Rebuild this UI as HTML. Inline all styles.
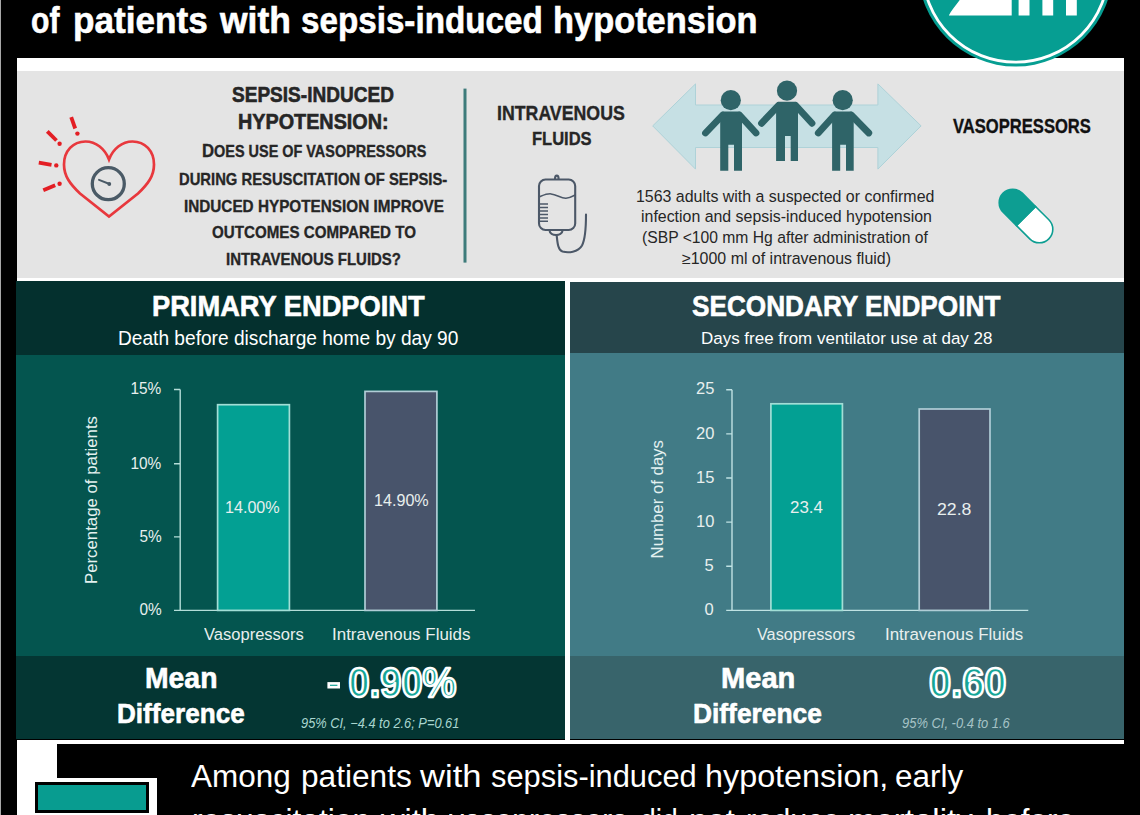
<!DOCTYPE html>
<html><head><meta charset="utf-8"><style>
html,body{margin:0;padding:0;background:#000;width:1140px;height:815px;overflow:hidden}
#root{position:relative;width:1140px;height:815px;background:#000;overflow:hidden;font-family:"Liberation Sans",sans-serif}
.r{position:absolute}
.tx{position:absolute;white-space:nowrap;line-height:1;font-family:"Liberation Sans",sans-serif}
svg{position:absolute;left:0;top:0}

</style></head><body>
<div id="root">
<div class="r" style="left:0;top:0;width:1px;height:815px;background:#a8a8a8"></div>
<!-- white strip + gray panel -->
<div class="r" style="left:17px;top:58px;width:1107px;height:223px;background:#fff"></div>
<div class="r" style="left:17px;top:71px;width:1107px;height:206.7px;background:#e4e4e4"></div>
<!-- panels -->
<div class="r" style="left:16px;top:281px;width:549px;height:74.3px;background:#04302e"></div>
<div class="r" style="left:16px;top:355.3px;width:549px;height:301.1px;background:#04554f"></div>
<div class="r" style="left:16px;top:656.4px;width:549px;height:83.1px;background:#043633"></div>
<div class="r" style="left:565px;top:281px;width:5px;height:462.5px;background:#fff"></div>
<div class="r" style="left:570px;top:281px;width:554px;height:1px;background:#fff"></div>
<div class="r" style="left:570px;top:282px;width:554px;height:70.5px;background:#26454b"></div>
<div class="r" style="left:570px;top:352.5px;width:554px;height:303.9px;background:#417b86"></div>
<div class="r" style="left:570px;top:656.4px;width:554px;height:83.1px;background:#38646b"></div>
<div class="r" style="left:17px;top:739.5px;width:1107px;height:4.2px;background:#fff"></div>
<!-- bottom-left icon -->
<div class="r" style="left:17px;top:743px;width:40px;height:80px;background:#fff"></div>
<div class="r" style="left:17px;top:777.5px;width:140px;height:50px;background:#fff"></div>
<div class="r" style="left:34.6px;top:782.4px;width:108.4px;height:24.2px;background:#089c90;border:3px solid #000"></div>
<svg width="1140" height="815" viewBox="0 0 1140 815">
  <!-- logo circle -->
  <circle cx="1015.5" cy="-30.8" r="97.3" fill="#069e92"/>
  <circle cx="1015.5" cy="-30.8" r="92.9" fill="none" stroke="#fff" stroke-width="2.8"/>
  <path d="M960.5 -1 C956 5 951 11 948.8 15.5 L1011.7 15.5 L1011.7 -1 Z" fill="#fff"/>
  <rect x="1018.6" y="-5" width="10.9" height="20.5" fill="#fff"/>
  <rect x="1042.4" y="-5" width="10.8" height="20.5" fill="#fff"/>
  <rect x="1066" y="-5" width="10.8" height="20.5" fill="#fff"/>
  <!-- heart -->
  <path d="M109 159.5 C105 149 96 141.5 85.5 141.5 C73 141.5 64 151 64 164.5 C64 176 70 184 80 193.5 L109 216.5 L138 193.5 C148 184 154 176 154 164.5 C154 151 145 141.5 132.5 141.5 C122 141.5 113 149 109 159.5 Z" fill="none" stroke="#e8383d" stroke-width="2.7" stroke-linejoin="miter"/>
  <circle cx="108.3" cy="183.7" r="16" fill="none" stroke="#4a5a66" stroke-width="3.3"/>
  <path d="M99 179.8 L109.5 184" stroke="#4a5a66" stroke-width="1.9" stroke-linecap="round"/><circle cx="109.3" cy="184" r="1.9" fill="#4a5a66"/>
  <g stroke="#e31e24" stroke-width="3.8" stroke-linecap="butt">
    <path d="M71.2 117.2 L75.2 128.5"/><path d="M47.3 131.3 L56.5 140.5"/><path d="M38.8 162.6 L51.5 164.8"/><path d="M43.3 190.3 L55.2 185.3"/>
  </g>
  <g fill="#e31e24">
    <circle cx="77.4" cy="133.6" r="2.2"/><circle cx="59.6" cy="143.7" r="2.2"/><circle cx="56.3" cy="165.4" r="2.2"/><circle cx="59.6" cy="183.8" r="2.2"/>
  </g>
  <!-- divider -->
  <rect x="463.5" y="88.6" width="3" height="174" fill="#3d7b7a"/>
  <!-- IV bag -->
  <g fill="none" stroke="#4c5868" stroke-width="2.1" stroke-linecap="round" stroke-linejoin="round">
    <rect x="539" y="179.5" width="36.2" height="50.5" rx="6.5"/>
    <path d="M555 179 C555 174.5 558.6 174.5 558.6 179"/>
    <path d="M549.5 230.3 C550 236.5 562 236.5 562.6 230.3"/>
    <path d="M556.7 235.6 C557.5 243 558 250 562.5 251.5 C568 253 578 252.5 582 245.5 C585.5 239 586 229 586 214.6"/>
  </g>
  <g fill="none" stroke="#4c5868" stroke-width="1.5">
    <path d="M539 197 C544 195 547 193.5 551 193.9 C557 194.5 561 198.5 566 198.2 C570 198 573 196 575.7 194.7"/>
    <path d="M539 204.1 H548 M539 207.6 H548 M539 211.1 H548 M539 214.6 H548 M539 218.1 H548 M539 221.3 H548"/>
  </g>
  <!-- arrow -->
  <path d="M652.7 125.9 L695.5 83.9 L695.5 105 L877.9 105 L877.9 83.9 L921.1 125.9 L877.9 169.1 L877.9 147.5 L695.5 147.5 L695.5 169.1 Z" fill="#c6e0e4" stroke="#aed2d8" stroke-width="1"/>
  <!-- people -->
  <g fill="#2f6468">
    <circle cx="730.8" cy="100.2" r="10.1"/>
    <path d="M720.2 115.0 Q720.2 111.5 723.7 111.5 H738.5 Q742 111.5 742 115.0 V170.7 H734 V144.8 H728.3 V170.7 H720.2 Z"/>
    <path d="M722.7 115.0 L705.5 133 M739.5 115.0 L756 133" stroke="#2f6468" stroke-width="6.8" stroke-linecap="round" fill="none"/>
    <circle cx="787" cy="90.7" r="10.1"/>
    <path d="M776.1 105.3 Q776.1 101.8 779.6 101.8 H794.5 Q798 101.8 798 105.3 V161 H790.7 V135.9 H785 V161 H776.1 Z"/>
    <path d="M778.6 105.3 L761.5 123.3 M795.5 105.3 L812 123.3" stroke="#2f6468" stroke-width="6.8" stroke-linecap="round" fill="none"/>
    <circle cx="842.7" cy="100.2" r="10.1"/>
    <path d="M832.1 115.0 Q832.1 111.5 835.6 111.5 H850.2 Q853.7 111.5 853.7 115.0 V170.7 H846 V144.8 H840.2 V170.7 H832.1 Z"/>
    <path d="M834.6 115.0 L818.3 133 M851.2 115.0 L868.8 133" stroke="#2f6468" stroke-width="6.8" stroke-linecap="round" fill="none"/>
  </g>
  <!-- pill -->
  <g transform="translate(1026 216) rotate(45)">
    <path d="M0 -13.5 L18.8 -13.5 A13.5 13.5 0 0 1 18.8 13.5 L0 13.5 Z" fill="#fff" stroke="#0d9e92" stroke-width="1.6"/>
    <path d="M0 -13.5 L-18.8 -13.5 A13.5 13.5 0 0 0 -18.8 13.5 L0 13.5 Z" fill="#0d9e92" stroke="#0d9e92" stroke-width="1.6"/>
  </g>
  <!-- primary chart -->
  <g stroke="#b4ddd8" stroke-width="1.4" fill="none">
    <path d="M180.2 389.5 V610.4 H475 M174 389.5 H180.2 M174 463.8 H180.2 M174 536.9 H180.2 M174 610.4 H180.2"/>
  </g>
  <rect x="217.6" y="404.7" width="71.8" height="205.7" fill="#03a093" stroke="#a2ded6" stroke-width="1.7"/>
  <rect x="365" y="391.4" width="71.9" height="219" fill="#48546b" stroke="#b0cdd6" stroke-width="1.7"/>
  <!-- secondary chart -->
  <g stroke="#bfe2e3" stroke-width="1.4" fill="none">
    <path d="M732 389.8 V610.4 H1028.3 M726.2 389.8 H732 M726.2 433.9 H732 M726.2 478 H732 M726.2 522.1 H732 M726.2 566.3 H732 M726.2 610.4 H732"/>
  </g>
  <rect x="770.9" y="403.8" width="71.5" height="206.6" fill="#03a093" stroke="#a2ded6" stroke-width="1.7"/>
  <rect x="919.2" y="409" width="70.8" height="201.4" fill="#48546b" stroke="#b0cdd6" stroke-width="1.7"/>
  <!-- y titles -->
  <text transform="translate(97.1 500) rotate(-90)" text-anchor="middle" font-family="Liberation Sans" font-size="17" fill="#e3f1ef" textLength="168" lengthAdjust="spacingAndGlyphs">Percentage of patients</text>
  <text transform="translate(663 499.2) rotate(-90)" text-anchor="middle" font-family="Liberation Sans" font-size="17" fill="#e3f1f1" textLength="118.4" lengthAdjust="spacingAndGlyphs">Number of days</text>
  <!-- big numbers -->
  <rect x="328.7" y="683.4" width="10" height="3.8" fill="#15a597" stroke="#fff" stroke-width="2.6"/>
  <text x="348.5" y="696.8" font-family="Liberation Sans" font-weight="bold" font-size="43" fill="#15a597" stroke="#fff" stroke-width="2.6" stroke-linejoin="round" textLength="108" lengthAdjust="spacingAndGlyphs">0.90%</text>
  <text x="929" y="696.8" font-family="Liberation Sans" font-weight="bold" font-size="43" fill="#15a597" stroke="#fff" stroke-width="2.6" stroke-linejoin="round" textLength="77.5" lengthAdjust="spacingAndGlyphs">0.60</text>
</svg>

<div class="tx" id="t0" style="left:30.57px;top:3.30px;font-size:36.96px;font-weight:bold;font-style:normal;color:#fff;transform:scaleX(0.8144);transform-origin:left top;-webkit-text-stroke:0.6px #fff">of</div>
<div class="tx" id="t1" style="left:73.10px;top:3.30px;font-size:36.96px;font-weight:bold;font-style:normal;color:#fff;transform:scaleX(0.9511);transform-origin:left top;-webkit-text-stroke:0.6px #fff">patients</div>
<div class="tx" id="t2" style="left:219.52px;top:3.30px;font-size:36.96px;font-weight:bold;font-style:normal;color:#fff;transform:scaleX(0.9584);transform-origin:left top;-webkit-text-stroke:0.6px #fff">with</div>
<div class="tx" id="t3" style="left:300.93px;top:3.30px;font-size:36.96px;font-weight:bold;font-style:normal;color:#fff;transform:scaleX(0.8985);transform-origin:left top;-webkit-text-stroke:0.6px #fff">sepsis-induced</div>
<div class="tx" id="t4" style="left:553.39px;top:3.30px;font-size:36.96px;font-weight:bold;font-style:normal;color:#fff;transform:scaleX(0.9309);transform-origin:left top;-webkit-text-stroke:0.6px #fff">hypotension</div>
<div class="tx" id="t5" style="left:232.00px;top:84.20px;font-size:21.74px;font-weight:bold;font-style:normal;color:#262626;transform:scaleX(0.8761);transform-origin:left top;-webkit-text-stroke:0.6px #262626">SEPSIS-INDUCED</div>
<div class="tx" id="t6" style="left:238.08px;top:111.40px;font-size:21.74px;font-weight:bold;font-style:normal;color:#262626;transform:scaleX(0.9105);transform-origin:left top;-webkit-text-stroke:0.6px #262626">HYPOTENSION:</div>
<div class="tx" id="t7" style="left:201.67px;top:140.90px;font-size:19.13px;font-weight:bold;font-style:normal;color:#262626;transform:scaleX(0.8777);transform-origin:left top;-webkit-text-stroke:0.35px #262626">D<span style="font-size:86%">OES USE OF VASOPRESSORS</span></div>
<div class="tx" id="t8" style="left:178.80px;top:171.20px;font-size:17.39px;font-weight:bold;font-style:normal;color:#262626;transform:scaleX(0.8516);transform-origin:left top;-webkit-text-stroke:0.35px #262626">DURING RESUSCITATION OF SEPSIS-</div>
<div class="tx" id="t9" style="left:184.22px;top:197.60px;font-size:17.39px;font-weight:bold;font-style:normal;color:#262626;transform:scaleX(0.8800);transform-origin:left top;-webkit-text-stroke:0.35px #262626">INDUCED HYPOTENSION IMPROVE</div>
<div class="tx" id="t10" style="left:211.68px;top:224.41px;font-size:17.39px;font-weight:bold;font-style:normal;color:#262626;transform:scaleX(0.8721);transform-origin:left top;-webkit-text-stroke:0.35px #262626">OUTCOMES COMPARED TO</div>
<div class="tx" id="t11" style="left:225.68px;top:251.00px;font-size:17.39px;font-weight:bold;font-style:normal;color:#262626;transform:scaleX(0.8604);transform-origin:left top;-webkit-text-stroke:0.35px #262626">INTRAVENOUS FLUIDS?</div>
<div class="tx" id="t12" style="left:497.44px;top:103.00px;font-size:20.00px;font-weight:bold;font-style:normal;color:#262626;transform:scaleX(0.8868);transform-origin:left top;-webkit-text-stroke:0.35px #262626">INTRAVENOUS</div>
<div class="tx" id="t13" style="left:532.22px;top:129.21px;font-size:19.13px;font-weight:bold;font-style:normal;color:#262626;transform:scaleX(0.8640);transform-origin:left top;-webkit-text-stroke:0.35px #262626">FLUIDS</div>
<div class="tx" id="t14" style="left:953.47px;top:116.41px;font-size:20.00px;font-weight:bold;font-style:normal;color:#111;transform:scaleX(0.8289);transform-origin:left top;-webkit-text-stroke:0.35px #111">VASOPRESSORS</div>
<div class="tx" id="t15" style="left:636.00px;top:188.91px;font-size:15.94px;font-weight:normal;font-style:normal;color:#262626;transform:scaleX(0.9993);transform-origin:left top">1563 adults with a suspected or confirmed</div>
<div class="tx" id="t16" style="left:641.00px;top:209.01px;font-size:15.94px;font-weight:normal;font-style:normal;color:#262626;transform:scaleX(0.9979);transform-origin:left top">infection and sepsis-induced hypotension</div>
<div class="tx" id="t17" style="left:642.40px;top:230.20px;font-size:15.94px;font-weight:normal;font-style:normal;color:#262626;transform:scaleX(0.9835);transform-origin:left top">(SBP &lt;100 mm Hg after administration of</div>
<div class="tx" id="t18" style="left:682.00px;top:250.60px;font-size:15.94px;font-weight:normal;font-style:normal;color:#262626;transform:scaleX(1.0000);transform-origin:left top">≥1000 ml of intravenous fluid)</div>
<div class="tx" id="t19" style="left:152.48px;top:291.61px;font-size:28.99px;font-weight:bold;font-style:normal;color:#fff;transform:scaleX(0.9405);transform-origin:left top;-webkit-text-stroke:0.6px #fff">PRIMARY ENDPOINT</div>
<div class="tx" id="t20" style="left:118.33px;top:329.01px;font-size:19.57px;font-weight:normal;font-style:normal;color:#fff;transform:scaleX(0.9781);transform-origin:left top">Death before discharge home by day 90</div>
<div class="tx" id="t21" style="left:691.88px;top:292.21px;font-size:28.99px;font-weight:bold;font-style:normal;color:#fff;transform:scaleX(0.9032);transform-origin:left top;-webkit-text-stroke:0.6px #fff">SECONDARY ENDPOINT</div>
<div class="tx" id="t22" style="left:700.71px;top:329.51px;font-size:17.10px;font-weight:normal;font-style:normal;color:#fff;transform:scaleX(0.9925);transform-origin:left top">Days free from ventilator use at day 28</div>
<div class="tx" id="t23" style="right:978.60px;top:380.41px;font-size:17.10px;font-weight:normal;font-style:normal;color:#e8efee;transform:scaleX(0.9000);transform-origin:right top">15%</div>
<div class="tx" id="t24" style="right:978.60px;top:454.72px;font-size:17.10px;font-weight:normal;font-style:normal;color:#e8efee;transform:scaleX(0.9000);transform-origin:right top">10%</div>
<div class="tx" id="t25" style="right:978.60px;top:527.60px;font-size:17.10px;font-weight:normal;font-style:normal;color:#e8efee;transform:scaleX(0.9000);transform-origin:right top">5%</div>
<div class="tx" id="t26" style="right:978.60px;top:601.30px;font-size:17.10px;font-weight:normal;font-style:normal;color:#e8efee;transform:scaleX(0.9000);transform-origin:right top">0%</div>
<div class="tx" id="t27" style="left:225.34px;top:500.01px;font-size:16.67px;font-weight:normal;font-style:normal;color:#e8efee;transform:scaleX(0.9674);transform-origin:left top">14.00%</div>
<div class="tx" id="t28" style="left:373.61px;top:493.01px;font-size:16.67px;font-weight:normal;font-style:normal;color:#e8efee;transform:scaleX(0.9682);transform-origin:left top">14.90%</div>
<div class="tx" id="t29" style="left:203.69px;top:627.01px;font-size:16.67px;font-weight:normal;font-style:normal;color:#e8efee;transform:scaleX(0.9922);transform-origin:left top">Vasopressors</div>
<div class="tx" id="t30" style="left:331.59px;top:627.01px;font-size:16.67px;font-weight:normal;font-style:normal;color:#e8efee;transform:scaleX(1.0178);transform-origin:left top">Intravenous Fluids</div>
<div class="tx" id="t31" style="right:426.00px;top:380.41px;font-size:17.39px;font-weight:normal;font-style:normal;color:#e8efee;transform:scaleX(0.9500);transform-origin:right top">25</div>
<div class="tx" id="t32" style="right:426.00px;top:424.50px;font-size:17.39px;font-weight:normal;font-style:normal;color:#e8efee;transform:scaleX(0.9500);transform-origin:right top">20</div>
<div class="tx" id="t33" style="right:426.00px;top:468.70px;font-size:17.39px;font-weight:normal;font-style:normal;color:#e8efee;transform:scaleX(0.9500);transform-origin:right top">15</div>
<div class="tx" id="t34" style="right:426.00px;top:512.91px;font-size:17.39px;font-weight:normal;font-style:normal;color:#e8efee;transform:scaleX(0.9500);transform-origin:right top">10</div>
<div class="tx" id="t35" style="right:426.00px;top:557.10px;font-size:17.39px;font-weight:normal;font-style:normal;color:#e8efee;transform:scaleX(0.9500);transform-origin:right top">5</div>
<div class="tx" id="t36" style="right:426.00px;top:601.31px;font-size:17.39px;font-weight:normal;font-style:normal;color:#e8efee;transform:scaleX(0.9500);transform-origin:right top">0</div>
<div class="tx" id="t37" style="left:789.74px;top:500.01px;font-size:16.67px;font-weight:normal;font-style:normal;color:#e8efee;transform:scaleX(1.0151);transform-origin:left top">23.4</div>
<div class="tx" id="t38" style="left:937.00px;top:501.51px;font-size:16.67px;font-weight:normal;font-style:normal;color:#e8efee;transform:scaleX(1.0625);transform-origin:left top">22.8</div>
<div class="tx" id="t39" style="left:757.00px;top:627.01px;font-size:16.67px;font-weight:normal;font-style:normal;color:#e8efee;transform:scaleX(0.9741);transform-origin:left top">Vasopressors</div>
<div class="tx" id="t40" style="left:885.18px;top:627.01px;font-size:16.67px;font-weight:normal;font-style:normal;color:#e8efee;transform:scaleX(1.0163);transform-origin:left top">Intravenous Fluids</div>
<div class="tx" id="t41" style="left:145.23px;top:663.81px;font-size:28.99px;font-weight:bold;font-style:normal;color:#fff;transform:scaleX(0.9779);transform-origin:left top;-webkit-text-stroke:0.6px #fff">Mean</div>
<div class="tx" id="t42" style="left:117.08px;top:698.80px;font-size:28.26px;font-weight:bold;font-style:normal;color:#fff;transform:scaleX(0.9241);transform-origin:left top;-webkit-text-stroke:0.6px #fff">Difference</div>
<div class="tx" id="t43" style="left:720.79px;top:663.81px;font-size:28.99px;font-weight:bold;font-style:normal;color:#fff;transform:scaleX(1.0029);transform-origin:left top;-webkit-text-stroke:0.6px #fff">Mean</div>
<div class="tx" id="t44" style="left:692.71px;top:698.80px;font-size:28.26px;font-weight:bold;font-style:normal;color:#fff;transform:scaleX(0.9324);transform-origin:left top;-webkit-text-stroke:0.6px #fff">Difference</div>
<div class="tx" id="t45" style="left:300.64px;top:717.31px;font-size:13.77px;font-weight:normal;font-style:italic;color:#a9d6d0;transform:scaleX(0.9322);transform-origin:left top">95% CI, −4.4 to 2.6; P=0.61</div>
<div class="tx" id="t46" style="left:902.00px;top:716.50px;font-size:13.77px;font-weight:normal;font-style:italic;color:#a6c3c6;transform:scaleX(0.9391);transform-origin:left top">95% CI, -0.4 to 1.6</div>
<div class="tx" id="t47" style="left:191.29px;top:761.01px;font-size:30.43px;font-weight:normal;font-style:normal;color:#fff;transform:scaleX(1.0337);transform-origin:left top">Among</div>
<div class="tx" id="t48" style="left:300.63px;top:761.01px;font-size:30.43px;font-weight:normal;font-style:normal;color:#fff;transform:scaleX(1.0400);transform-origin:left top">patients</div>
<div class="tx" id="t49" style="left:420.16px;top:761.01px;font-size:30.43px;font-weight:normal;font-style:normal;color:#fff;transform:scaleX(1.1361);transform-origin:left top">with</div>
<div class="tx" id="t50" style="left:491.19px;top:761.01px;font-size:30.43px;font-weight:normal;font-style:normal;color:#fff;transform:scaleX(1.0139);transform-origin:left top">sepsis-induced</div>
<div class="tx" id="t51" style="left:705.43px;top:761.01px;font-size:30.43px;font-weight:normal;font-style:normal;color:#fff;transform:scaleX(1.0628);transform-origin:left top">hypotension,</div>
<div class="tx" id="t52" style="left:894.98px;top:761.01px;font-size:30.43px;font-weight:normal;font-style:normal;color:#fff;transform:scaleX(1.0332);transform-origin:left top">early</div>
<div class="tx" id="t53" style="left:191.94px;top:804.51px;font-size:30.43px;font-weight:normal;font-style:normal;color:#fff;transform:scaleX(1.0430);transform-origin:left top">resuscitation</div>
<div class="tx" id="t54" style="left:381.25px;top:804.51px;font-size:30.43px;font-weight:normal;font-style:normal;color:#fff;transform:scaleX(1.0715);transform-origin:left top">with</div>
<div class="tx" id="t55" style="left:448.70px;top:804.51px;font-size:30.43px;font-weight:normal;font-style:normal;color:#fff;transform:scaleX(0.9846);transform-origin:left top">vasopressors</div>
<div class="tx" id="t56" style="left:639.83px;top:804.51px;font-size:30.43px;font-weight:normal;font-style:normal;color:#fff;transform:scaleX(0.9330);transform-origin:left top">did</div>
<div class="tx" id="t57" style="left:689.42px;top:804.51px;font-size:30.43px;font-weight:normal;font-style:normal;color:#fff;transform:scaleX(1.0830);transform-origin:left top">not</div>
<div class="tx" id="t58" style="left:745.91px;top:804.51px;font-size:30.43px;font-weight:normal;font-style:normal;color:#fff;transform:scaleX(1.0076);transform-origin:left top">reduce</div>
<div class="tx" id="t59" style="left:847.52px;top:804.51px;font-size:30.43px;font-weight:normal;font-style:normal;color:#fff;transform:scaleX(1.0848);transform-origin:left top">mortality</div>
<div class="tx" id="t60" style="left:986.47px;top:804.51px;font-size:30.43px;font-weight:normal;font-style:normal;color:#fff;transform:scaleX(1.0290);transform-origin:left top">before</div>
</div>
</body></html>
